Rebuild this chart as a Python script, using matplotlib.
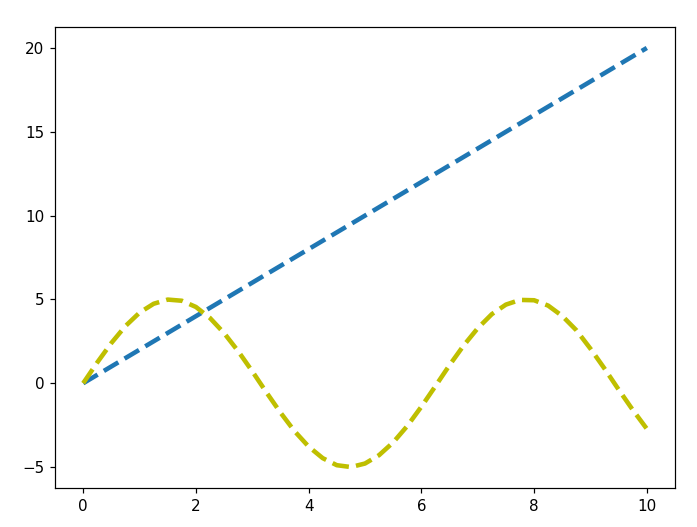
import matplotlib
matplotlib.use("Agg")
import matplotlib.pyplot as plt

# straight line
line_x = [0, 10]
line_y = [0, 20]

# wave, every 0.25
wave_x = [0, 0.25, 0.5, 0.75, 1, 1.25, 1.5, 1.75, 2, 2.25, 2.5, 2.75, 3, 3.25,
          3.5, 3.75, 4, 4.25, 4.5, 4.75, 5, 5.25, 5.5, 5.75, 6, 6.25, 6.5, 6.75,
          7, 7.25, 7.5, 7.75, 8, 8.25, 8.5, 8.75, 9, 9.25, 9.5, 9.75, 10]
wave_y = [0, 1.24, 2.40, 3.41, 4.21, 4.74, 4.99, 4.92, 4.55, 3.89, 2.99, 1.91,
          0.71, -0.54, -1.75, -2.86, -3.78, -4.47, -4.89, -5.00, -4.79, -4.29,
          -3.53, -2.55, -1.40, -0.17, 1.08, 2.25, 3.28, 4.12, 4.69, 4.97, 4.95,
          4.63, 4.01, 3.16, 2.06, 0.87, -0.38, -1.59, -2.72]

fig = plt.figure(figsize=(697 / 109, 527 / 109), dpi=109)
ax = fig.add_axes([55 / 697, 39 / 527, 620 / 697, 461 / 527])
ax.plot(line_x, line_y, '--', lw=3)
ax.plot(wave_x, wave_y, 'y--', lw=3)
ax.set_xticks([0, 2, 4, 6, 8, 10])
ax.set_yticks([-5, 0, 5, 10, 15, 20])
fig.savefig("out.png", dpi=109)
